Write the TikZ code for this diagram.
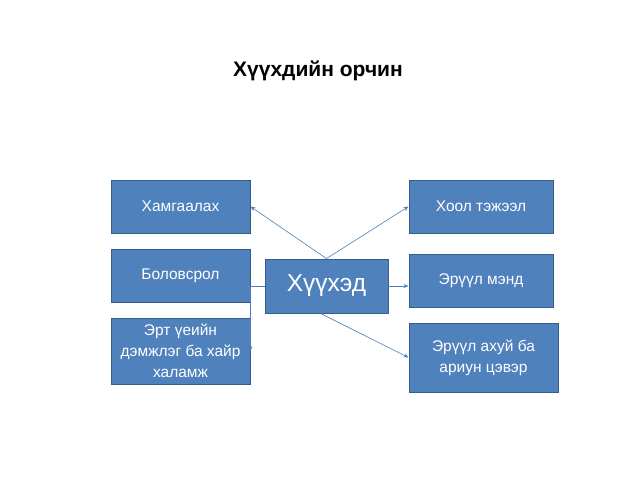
\documentclass[tikz,border=0pt]{standalone}
\usepackage{fontspec}
\setmainfont{Liberation Sans}
\usepackage{xcolor}
\usetikzlibrary{arrows.meta,positioning,calc}
\definecolor{boxfill}{HTML}{4F81BD}
\definecolor{boxline}{HTML}{385D8A}
\definecolor{linkcol}{HTML}{4A7EBB}

\begin{document}
\begin{tikzpicture}[x=1pt, y=-1pt,
  box/.style={draw=boxline, line width=0.9pt, fill=boxfill, text=white, align=center,
              inner sep=0pt, font=\fontsize{15.5}{21}\selectfont},
  link/.style={draw=linkcol, line width=0.6pt, -{Stealth[length=5pt, width=4pt]}}]
  \useasboundingbox (0,0) rectangle (638,478);
  % Title
  \node[font=\fontsize{21}{24}\selectfont\bfseries] (title) at (318, 71) {Хүүхдийн орчин};
  % Center
  \node[box, minimum width=123pt, minimum height=54pt, font=\fontsize{24.5}{28}\selectfont] (hub) at (326.5, 286) {Хүүхэд};
  % Left column
  \node[box, minimum width=139pt, minimum height=53pt] (prot) at (180.5, 206.5) {Хамгаалах};
  \node[box, minimum width=139pt, minimum height=53pt] (edu)  at (180.5, 275.5) {Боловсрол};
  \node[box, minimum width=139pt, minimum height=66pt] (care) at (180.5, 351) {Эрт үеийн\\дэмжлэг ба хайр\\халамж};
  % Right column
  \node[box, minimum width=144pt, minimum height=53pt] (food)   at (481, 206.5) {Хоол тэжээл};
  \node[box, minimum width=144pt, minimum height=53pt] (health) at (481, 280.5) {Эрүүл мэнд};
  \node[box, minimum width=149pt, minimum height=69pt] (hyg)    at (483.5, 357.5) {Эрүүл ахуй ба\\ариун цэвэр};
  % Connectors
  \draw[link] (hub.north) -- (prot.east);
  \draw[link] (hub.north) -- (food.west);
  \draw[link] (hub.east) -- (hub.east -| health.west);
  \draw[link] ($(hub.south)+(-6,0)$) -- (hyg.west);
  \draw[link] (hub.west) -- (hub.west -| care.east) -- (care.east);
\end{tikzpicture}
\end{document}
